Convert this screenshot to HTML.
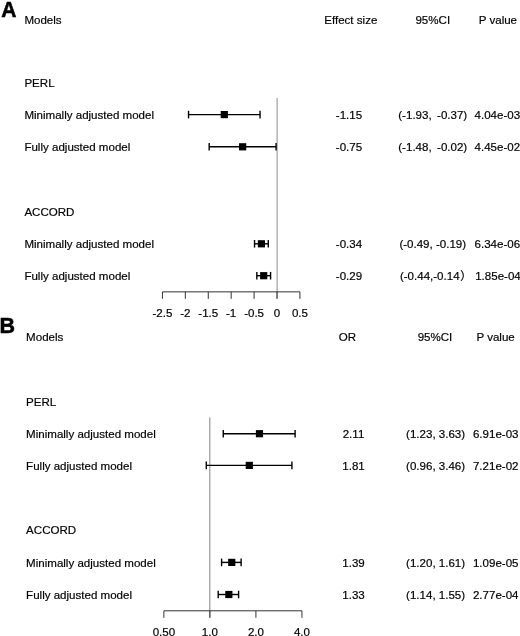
<!DOCTYPE html>
<html><head><meta charset="utf-8"><title>Forest plot</title>
<style>
html,body{margin:0;padding:0;background:#fff;}
body{width:520px;height:636px;overflow:hidden;}
svg{display:block;font-family:"Liberation Sans",sans-serif;fill:#000;}
text{stroke:#000;stroke-width:0.18px;}
</style></head><body>
<svg width="520" height="636" viewBox="0 0 520 636">
<rect x="0" y="0" width="520" height="636" fill="#fff"/>
<text transform="translate(1.3,17) scale(0.94,1)" font-size="22.4" font-weight="bold" style="stroke:#000;stroke-width:0.5px">A</text>
<text x="24.4" y="24.0" font-size="11.55" text-anchor="start" font-weight="normal">Models</text>
<text x="350.8" y="24.1" font-size="11.55" text-anchor="middle" font-weight="normal">Effect size</text>
<text x="432.8" y="24.1" font-size="11.55" text-anchor="middle" font-weight="normal">95%CI</text>
<text x="497.9" y="24.1" font-size="11.55" text-anchor="middle" font-weight="normal">P value</text>
<line x1="277.1" y1="98" x2="277.1" y2="298.5" stroke="#999" stroke-width="1.15"/>
<text x="24.4" y="86.75" font-size="11.55" text-anchor="start" font-weight="normal">PERL</text>
<text x="24.4" y="118.75" font-size="11.55" text-anchor="start" font-weight="normal">Minimally adjusted model</text>
<line x1="188.55" y1="114.6" x2="260.04" y2="114.6" stroke="#000" stroke-width="1.4"/>
<line x1="188.55" y1="110.8" x2="188.55" y2="118.4" stroke="#000" stroke-width="1.4"/>
<line x1="260.04" y1="110.8" x2="260.04" y2="118.4" stroke="#000" stroke-width="1.4"/>
<rect x="220.7" y="111.0" width="7.2" height="7.2" fill="#000"/>
<text x="349" y="118.75" font-size="11.55" text-anchor="middle" font-weight="normal">-1.15</text>
<text x="432.75" y="118.75" font-size="11.55" text-anchor="middle" font-weight="normal">(-1.93,<tspan dx="2.2"> -0.37)</tspan></text>
<text x="497.3" y="118.75" font-size="11.55" text-anchor="middle" font-weight="normal">4.04e-03</text>
<text x="24.4" y="151.25" font-size="11.55" text-anchor="start" font-weight="normal">Fully adjusted model</text>
<line x1="209.17" y1="146.8" x2="276.08" y2="146.8" stroke="#000" stroke-width="1.4"/>
<line x1="209.17" y1="143.0" x2="209.17" y2="150.6" stroke="#000" stroke-width="1.4"/>
<line x1="276.08" y1="143.0" x2="276.08" y2="150.6" stroke="#000" stroke-width="1.4"/>
<rect x="239.03" y="143.2" width="7.2" height="7.2" fill="#000"/>
<text x="349" y="151.25" font-size="11.55" text-anchor="middle" font-weight="normal">-0.75</text>
<text x="432.75" y="151.25" font-size="11.55" text-anchor="middle" font-weight="normal">(-1.48,<tspan dx="2.2"> -0.02)</tspan></text>
<text x="497.3" y="151.25" font-size="11.55" text-anchor="middle" font-weight="normal">4.45e-02</text>
<text x="24.4" y="215.75" font-size="11.55" text-anchor="start" font-weight="normal">ACCORD</text>
<text x="24.4" y="248.25" font-size="11.55" text-anchor="start" font-weight="normal">Minimally adjusted model</text>
<line x1="254.54" y1="243.8" x2="268.29" y2="243.8" stroke="#000" stroke-width="1.4"/>
<line x1="254.54" y1="240.0" x2="254.54" y2="247.6" stroke="#000" stroke-width="1.4"/>
<line x1="268.29" y1="240.0" x2="268.29" y2="247.6" stroke="#000" stroke-width="1.4"/>
<rect x="257.82" y="240.2" width="7.2" height="7.2" fill="#000"/>
<text x="349" y="248.25" font-size="11.55" text-anchor="middle" font-weight="normal">-0.34</text>
<text x="432.75" y="248.25" font-size="11.55" text-anchor="middle" font-weight="normal">(-0.49, -0.19)</text>
<text x="497.3" y="248.25" font-size="11.55" text-anchor="middle" font-weight="normal">6.34e-06</text>
<text x="24.4" y="280.25" font-size="11.55" text-anchor="start" font-weight="normal">Fully adjusted model</text>
<line x1="256.83" y1="275.7" x2="270.58" y2="275.7" stroke="#000" stroke-width="1.4"/>
<line x1="256.83" y1="271.9" x2="256.83" y2="279.5" stroke="#000" stroke-width="1.4"/>
<line x1="270.58" y1="271.9" x2="270.58" y2="279.5" stroke="#000" stroke-width="1.4"/>
<rect x="260.11" y="272.1" width="7.2" height="7.2" fill="#000"/>
<text x="349" y="280.25" font-size="11.55" text-anchor="middle" font-weight="normal">-0.29</text>
<text x="399.9" y="280.25" font-size="11.55" text-anchor="start" font-weight="normal">(-0.44,-0.14<tspan dx="0.6" font-family="Noto Sans CJK SC">）</tspan></text>
<text x="498.0" y="280.25" font-size="11.55" text-anchor="middle" font-weight="normal">1.85e-04</text>
<line x1="162.43" y1="291.85" x2="299.92" y2="291.85" stroke="#333" stroke-width="1"/>
<line x1="162.43" y1="291.85" x2="162.43" y2="298.85" stroke="#333" stroke-width="1"/>
<text x="162.43" y="317" font-size="11.55" text-anchor="middle" font-weight="normal">-2.5</text>
<line x1="185.34" y1="291.85" x2="185.34" y2="298.85" stroke="#333" stroke-width="1"/>
<text x="185.34" y="317" font-size="11.55" text-anchor="middle" font-weight="normal">-2</text>
<line x1="208.25" y1="291.85" x2="208.25" y2="298.85" stroke="#333" stroke-width="1"/>
<text x="208.25" y="317" font-size="11.55" text-anchor="middle" font-weight="normal">-1.5</text>
<line x1="231.17" y1="291.85" x2="231.17" y2="298.85" stroke="#333" stroke-width="1"/>
<text x="231.17" y="317" font-size="11.55" text-anchor="middle" font-weight="normal">-1</text>
<line x1="254.09" y1="291.85" x2="254.09" y2="298.85" stroke="#333" stroke-width="1"/>
<text x="254.09" y="317" font-size="11.55" text-anchor="middle" font-weight="normal">-0.5</text>
<line x1="277.0" y1="291.85" x2="277.0" y2="298.85" stroke="#333" stroke-width="1"/>
<text x="277.0" y="317" font-size="11.55" text-anchor="middle" font-weight="normal">0</text>
<line x1="299.92" y1="291.85" x2="299.92" y2="298.85" stroke="#333" stroke-width="1"/>
<text x="299.92" y="317" font-size="11.55" text-anchor="middle" font-weight="normal">0.5</text>
<text transform="translate(-0.4,333) scale(0.96,1)" font-size="22.4" font-weight="bold" style="stroke:#000;stroke-width:0.5px">B</text>
<text x="26.1" y="340.75" font-size="11.55" text-anchor="start" font-weight="normal">Models</text>
<text x="347.5" y="340.75" font-size="11.55" text-anchor="middle" font-weight="normal">OR</text>
<text x="435" y="340.75" font-size="11.55" text-anchor="middle" font-weight="normal">95%CI</text>
<text x="495.6" y="340.75" font-size="11.55" text-anchor="middle" font-weight="normal">P value</text>
<line x1="209.8" y1="417.5" x2="209.8" y2="617.5" stroke="#8e8e8e" stroke-width="1.1"/>
<text x="26.1" y="405.5" font-size="11.55" text-anchor="start" font-weight="normal">PERL</text>
<text x="26.1" y="437.75" font-size="11.55" text-anchor="start" font-weight="normal">Minimally adjusted model</text>
<line x1="223.25" y1="433.7" x2="295.11" y2="433.7" stroke="#000" stroke-width="1.4"/>
<line x1="223.25" y1="429.9" x2="223.25" y2="437.5" stroke="#000" stroke-width="1.4"/>
<line x1="295.11" y1="429.9" x2="295.11" y2="437.5" stroke="#000" stroke-width="1.4"/>
<rect x="255.88" y="430.1" width="7.2" height="7.2" fill="#000"/>
<text x="353.5" y="437.75" font-size="11.55" text-anchor="middle" font-weight="normal">2.11</text>
<text x="435.6" y="437.75" font-size="11.55" text-anchor="middle" font-weight="normal">(1.23, 3.63)</text>
<text x="495.75" y="437.75" font-size="11.55" text-anchor="middle" font-weight="normal">6.91e-03</text>
<text x="26.1" y="470.25" font-size="11.55" text-anchor="start" font-weight="normal">Fully adjusted model</text>
<line x1="206.29" y1="465.4" x2="291.92" y2="465.4" stroke="#000" stroke-width="1.4"/>
<line x1="206.29" y1="461.6" x2="206.29" y2="469.2" stroke="#000" stroke-width="1.4"/>
<line x1="291.92" y1="461.6" x2="291.92" y2="469.2" stroke="#000" stroke-width="1.4"/>
<rect x="245.7" y="461.8" width="7.2" height="7.2" fill="#000"/>
<text x="353.5" y="470.25" font-size="11.55" text-anchor="middle" font-weight="normal">1.81</text>
<text x="435.6" y="470.25" font-size="11.55" text-anchor="middle" font-weight="normal">(0.96, 3.46)</text>
<text x="495.75" y="470.25" font-size="11.55" text-anchor="middle" font-weight="normal">7.21e-02</text>
<text x="26.1" y="534.2" font-size="11.55" text-anchor="start" font-weight="normal">ACCORD</text>
<text x="26.1" y="566.5" font-size="11.55" text-anchor="start" font-weight="normal">Minimally adjusted model</text>
<line x1="221.61" y1="562.4" x2="241.12" y2="562.4" stroke="#000" stroke-width="1.4"/>
<line x1="221.61" y1="558.6" x2="221.61" y2="566.2" stroke="#000" stroke-width="1.4"/>
<line x1="241.12" y1="558.6" x2="241.12" y2="566.2" stroke="#000" stroke-width="1.4"/>
<rect x="228.17" y="558.8" width="7.2" height="7.2" fill="#000"/>
<text x="353.5" y="566.5" font-size="11.55" text-anchor="middle" font-weight="normal">1.39</text>
<text x="435.6" y="566.5" font-size="11.55" text-anchor="middle" font-weight="normal">(1.20, 1.61)</text>
<text x="495.75" y="566.5" font-size="11.55" text-anchor="middle" font-weight="normal">1.09e-05</text>
<text x="26.1" y="599" font-size="11.55" text-anchor="start" font-weight="normal">Fully adjusted model</text>
<line x1="218.2" y1="594.5" x2="238.6" y2="594.5" stroke="#000" stroke-width="1.4"/>
<line x1="218.2" y1="590.7" x2="218.2" y2="598.3" stroke="#000" stroke-width="1.4"/>
<line x1="238.6" y1="590.7" x2="238.6" y2="598.3" stroke="#000" stroke-width="1.4"/>
<rect x="225.24" y="590.9" width="7.2" height="7.2" fill="#000"/>
<text x="353.5" y="599" font-size="11.55" text-anchor="middle" font-weight="normal">1.33</text>
<text x="435.6" y="599" font-size="11.55" text-anchor="middle" font-weight="normal">(1.14, 1.55)</text>
<text x="495.75" y="599" font-size="11.55" text-anchor="middle" font-weight="normal">2.77e-04</text>
<line x1="163.88" y1="610.8" x2="301.95" y2="610.8" stroke="#333" stroke-width="1"/>
<line x1="163.88" y1="610.8" x2="163.88" y2="617.8" stroke="#333" stroke-width="1"/>
<text x="163.88" y="635.8" font-size="11.55" text-anchor="middle" font-weight="normal">0.50</text>
<line x1="209.9" y1="610.8" x2="209.9" y2="617.8" stroke="#333" stroke-width="1"/>
<text x="209.9" y="635.8" font-size="11.55" text-anchor="middle" font-weight="normal">1.0</text>
<line x1="255.92" y1="610.8" x2="255.92" y2="617.8" stroke="#333" stroke-width="1"/>
<text x="255.92" y="635.8" font-size="11.55" text-anchor="middle" font-weight="normal">2.0</text>
<line x1="301.95" y1="610.8" x2="301.95" y2="617.8" stroke="#333" stroke-width="1"/>
<text x="301.95" y="635.8" font-size="11.55" text-anchor="middle" font-weight="normal">4.0</text>
</svg>
</body></html>
